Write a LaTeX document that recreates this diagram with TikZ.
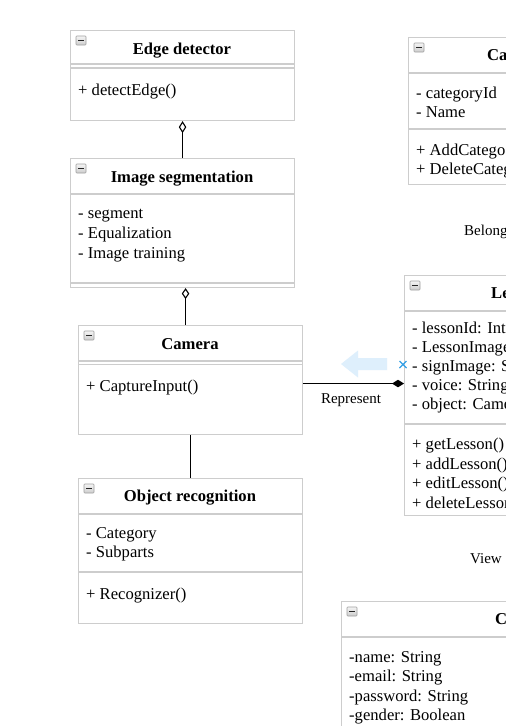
\documentclass[tikz,border=0pt]{standalone}
\usepackage{fontspec}
\setmainfont{Liberation Serif}
\usetikzlibrary{arrows.meta,calc}
\definecolor{boxgray}{RGB}{205,205,205}
\definecolor{hintblue}{RGB}{222,239,252}
\definecolor{xblue}{RGB}{52,160,230}
\begin{document}
\begin{tikzpicture}[x=1pt,y=-1pt,
  classbox/.style={draw=boxgray, line width=1.1pt, fill=white, inner sep=0pt, anchor=north west},
  sepline/.style={draw=boxgray, line width=1.1pt},
  ctitle/.style={font=\fontsize{16.6}{19.5}\selectfont\bfseries, inner sep=0pt, anchor=base},
  ctitlew/.style={font=\fontsize{16.6}{19.5}\selectfont\bfseries, inner sep=0pt, anchor=base west},
  member/.style={font=\fontsize{16.6}{19.5}\selectfont, inner sep=0pt, anchor=base west},
  lbl/.style={font=\fontsize{15}{18}\selectfont, inner sep=0pt, anchor=base},
  conn/.style={draw=black, line width=1.1pt},
  clsicon/.pic={
    \draw[draw=gray!75, top color=gray!8, bottom color=gray!40, line width=0.6pt, rounded corners=0.8pt] (0,0) rectangle (10,9);
    \draw[line width=1.6pt, draw=gray!30!black] (2.3,4.5) -- (7.7,4.5);
  }
]
\useasboundingbox (0,0) rectangle (506,726);
\fill[white] (0,0) rectangle (506,726);

% ---------- Edge detector ----------
\node[classbox, minimum width=224pt, minimum height=90pt] (edge) at (70,30) {};
\draw[sepline] (70,64) -- (294,64);
\draw[sepline] (70,68) -- (294,68);
\pic at (76,36) {clsicon};
\node[ctitle] (edget) at (182,54.5) {Edge detector};
\node[member] (edgem1) at (78,95.5) {+ detectEdge()};

% ---------- Image segmentation ----------
\node[classbox, minimum width=224pt, minimum height=129pt] (seg) at (70,158) {};
\draw[sepline] (70,194) -- (294,194);
\draw[sepline] (70,283) -- (294,283);
\pic at (76,164) {clsicon};
\node[ctitle] (segt) at (182,182.5) {Image segmentation};
\foreach \t [count=\i] in {- segment, - Equalization, - Image training}
  \node[member] (sega\i) at (78,{218.5+20*(\i-1)}) {\t};

% ---------- Camera ----------
\node[classbox, minimum width=224pt, minimum height=109pt] (cam) at (78,325) {};
\draw[sepline] (78,361) -- (302,361);
\draw[sepline] (78,364.5) -- (302,364.5);
\pic at (84,331) {clsicon};
\node[ctitle] (camt) at (190,349.5) {Camera};
\node[member] (camm1) at (86,391.5) {+ CaptureInput()};

% ---------- Object recognition ----------
\node[classbox, minimum width=224pt, minimum height=145pt] (obj) at (78,478) {};
\draw[sepline] (78,514) -- (302,514);
\draw[sepline] (78,572) -- (302,572);
\pic at (84,484) {clsicon};
\node[ctitle] (objt) at (190,501.5) {Object recognition};
\foreach \t [count=\i] in {- Category, - Subparts}
  \node[member] (obja\i) at (86,{538.5+19*(\i-1)}) {\t};
\node[member] (objm1) at (86,599.5) {+ Recognizer()};

% ---------- Category (cut at right edge) ----------
\node[classbox, minimum width=224pt, minimum height=147pt] (cat) at (408,37) {};
\draw[sepline] (408,73) -- (632,73);
\draw[sepline] (408,129) -- (632,129);
\pic at (414,43) {clsicon};
\node[ctitlew] (catt) at (487,60.5) {Ca};
\foreach \t [count=\i] in {- categoryId, - Name}
  \node[member] (cata\i) at (416,{98.5+18.5*(\i-1)}) {\t};
\foreach \t [count=\i] in {+ AddCatego, + DeleteCateg}
  \node[member] (catm\i) at (416,{155.5+19*(\i-1)}) {\t};

% ---------- Lesson (cut at right edge) ----------
\node[classbox, minimum width=224pt, minimum height=240pt] (less) at (404,275) {};
\draw[sepline] (404,311) -- (628,311);
\draw[sepline] (404,424) -- (628,424);
\pic at (410,281) {clsicon};
\node[ctitlew] (lesst) at (491,298.5) {Le};
\foreach \t [count=\i] in {- lessonId: Int, - LessonImage, - signImage: S, - voice: String, - object: Came}
  \node[member] (lessa\i) at (412,{333.5+19*(\i-1)}) {\t};
\foreach \t [count=\i] in {+ getLesson(), + addLesson(), + editLesson(), + deleteLesson}
  \node[member] (lessm\i) at (412,{449.5+19.5*(\i-1)}) {\t};

% ---------- Bottom class (cut at right and bottom edges) ----------
\node[classbox, minimum width=224pt, minimum height=160pt] (usr) at (341,601) {};
\draw[sepline] (341,637) -- (565,637);
\pic at (347,607) {clsicon};
\node[ctitlew] (usrt) at (495,624.5) {C};
\foreach \t [count=\i] in {-name: String, -email: String, -password: String, -gender: Boolean}
  \node[member] (usra\i) at (349,{662.5+19.3*(\i-1)}) {\t};

% ---------- free labels ----------
\node[lbl, anchor=base west] (belong) at (464,235) {Belong};
\node[lbl, anchor=base west] (view) at (470,563) {View};

% ---------- connectors ----------
\draw[conn, -{Diamond[open, length=12pt, width=7.5pt]}] (seg.north) -- (edge.south);
\draw[conn, -{Diamond[open, length=11pt, width=7.5pt]}] ($(cam.north)+(-5,0)$) -- ($(seg.south)+(3,0)$);
\draw[conn] (cam.south) -- (obj.north);
\coordinate (repstart) at ($(cam.east)+(0,3.5)$);
\draw[conn, -{Diamond[length=12pt, width=7.5pt]}] (repstart) -- (repstart -| less.west);
\node[lbl] (replbl) at (351,403.5) {Represent};

% ---------- editor hint marks ----------
\fill[hintblue] (341,364) -- (358,350.5) -- (358,358) -- (387,358) -- (387,370) -- (358,370) -- (358,377.5) -- cycle;
\draw[xblue, line width=1.4pt] (399.5,361) -- (406.5,368) (399.5,368) -- (406.5,361);
\end{tikzpicture}
\end{document}
